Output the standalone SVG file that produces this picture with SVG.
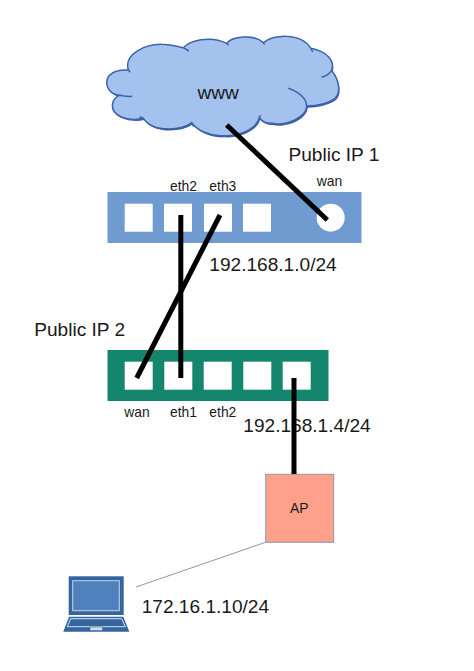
<svg xmlns="http://www.w3.org/2000/svg" width="474" height="671" viewBox="0 0 474 671">
<style>
text{font-family:"Liberation Sans",Arial,sans-serif;fill:#1a1a1a}
.l{font-size:19.1px}
.s{font-size:13.9px}
.p{fill:#fff}
.w{stroke:#000;stroke-width:5;fill:none}
</style>
<defs>
<path id="cloudShape" d="M115 150C100 100 170 72 215 73C240 73 265 80 280 83C300 62 360 45 410 70C425 50 490 40 520 68C550 45 630 35 663 85C710 95 735 120 725 152C745 175 755 215 735 235C715 250 680 258 650 258C650 290 590 320 545 310C530 310 515 305 508 292C500 330 440 350 400 347C360 350 320 330 305 308C280 330 190 340 160 295C120 305 60 290 68 250C70 240 75 232 88 226C50 220 45 190 55 170C65 155 90 148 115 150Z"/>
</defs>
<g id="cloud">
<g transform="translate(90 20) scale(.33333)">
<use href="#cloudShape" x="3" y="5" fill="#3a5c9c"/>
<use href="#cloudShape" fill="#a4c2ee" stroke="#3e63ab" stroke-width="4.5"/>
<path d="M280 83L297 93M410 70L416 76M520 68L524 74M663 85L668 96M725 152C718 162 708 168 695 172M650 258C650 235 625 215 595 205M508 292L512 286M305 308L311 320M160 295L148 290M88 226C100 229 113 230 127 229M115 150L121 157" fill="none" stroke="#3e63ab" stroke-width="4.5"/>
</g>
<text class="l" x="197.5" y="99">www</text>
</g>
<g id="router">
<rect x="107.5" y="192" width="254" height="51" fill="#6f9bd1"/>
<rect class="p" x="124.7" y="203.7" width="28" height="28"/>
<rect class="p" x="164" y="203.7" width="28" height="28"/>
<rect class="p" x="204" y="203.7" width="28" height="28"/>
<rect class="p" x="243" y="203.7" width="28" height="28"/>
<circle class="p" cx="330.7" cy="217.7" r="14"/>
<text class="s" x="170" y="190.7">eth2</text>
<text class="s" x="209.3" y="190.7">eth3</text>
<text class="s" x="316.7" y="185.7">wan</text>
<text class="l" x="288.5" y="161">Public IP 1</text>
<text class="l" x="209.3" y="270.7">192.168.1.0/24</text>
</g>
<g id="switch">
<rect x="107.5" y="350" width="221" height="51" fill="#15866e"/>
<rect class="p" x="124.7" y="361.7" width="28" height="28"/>
<rect class="p" x="164.3" y="361.7" width="28" height="28"/>
<rect class="p" x="203.7" y="361.7" width="28" height="28"/>
<rect class="p" x="243.3" y="361.7" width="28" height="28"/>
<rect class="p" x="282.7" y="361.7" width="28" height="28"/>
<text class="s" x="124.3" y="417.3">wan</text>
<text class="s" x="170" y="417.3">eth1</text>
<text class="s" x="209.3" y="417.3">eth2</text>
<text class="l" x="34.2" y="336">Public IP 2</text>
<text class="l" x="243.3" y="432.3">192.168.1.4/24</text>
</g>
<g id="ap">
<rect x="265.7" y="474.3" width="68" height="68" fill="#ffa08a" stroke="#8c9aab" stroke-width="1"/>
<text class="s" x="290" y="513">AP</text>
</g>
<g id="laptop">
<rect x="68.7" y="576.3" width="55" height="38.7" fill="#34659f"/>
<rect x="72.7" y="580.7" width="46.6" height="30" fill="#4f81bd" stroke="#c5d5e8" stroke-width="1"/>
<path d="M69 616.7H123.3L129.3 631.7H63.3Z" fill="#34659f"/>
<path d="M70.7 618.7H121.7L125.3 626.7H67.3Z" fill="#34659f" stroke="#d5e0ee" stroke-width="1"/>
<rect x="90" y="627" width="12.7" height="3.7" fill="#d5e0ee" stroke="#34659f" stroke-width=".6"/>
<text class="l" x="141.7" y="613.3">172.16.1.10/24</text>
</g>
<g id="connectors">
<path class="w" d="M226.7 125L327.3 220"/>
<path class="w" d="M180.8 215V378"/>
<path class="w" d="M220 215L136.7 378"/>
<path class="w" d="M294 378V474"/>
<path d="M265.5 542.3L136 587" fill="none" stroke="#8c9aa5" stroke-width="1"/>
</g>
</svg>
